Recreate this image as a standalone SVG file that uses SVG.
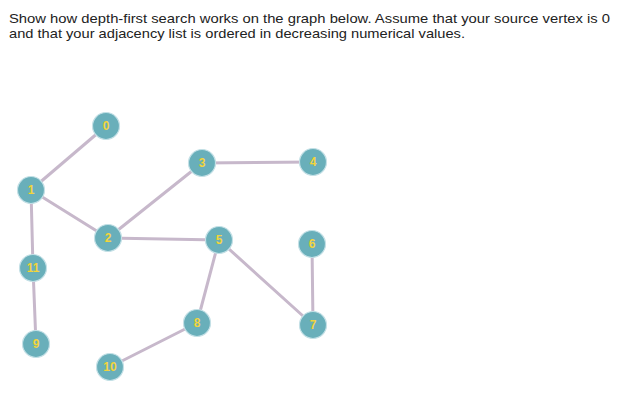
<svg xmlns="http://www.w3.org/2000/svg" width="622" height="401" viewBox="0 0 622 401">
<style>
.t{font-family:"Liberation Sans",Arial,sans-serif;font-size:13.3px;fill:#222}
.e line{stroke:#c7b8cb;stroke-width:3;stroke-linecap:round}
.n circle{fill:#69afba;stroke:#c4e0e6;stroke-width:1.2}
.n text{font-family:"Liberation Sans",Arial,sans-serif;font-size:12px;font-weight:bold;fill:#f2d43c;text-anchor:middle}
</style>
<rect width="622" height="401" fill="#fff"/>
<text class="t" x="9" y="22.5" textLength="601" lengthAdjust="spacingAndGlyphs">Show how depth-first search works on the graph below. Assume that your source vertex is 0</text>
<text class="t" x="9" y="37.5" textLength="456" lengthAdjust="spacingAndGlyphs">and that your adjacency list is ordered in decreasing numerical values.</text>
<g id="edges" class="e">
<line x1="106" y1="126" x2="31" y2="190"/>
<line x1="31" y1="190" x2="108" y2="238"/>
<line x1="31" y1="190" x2="33" y2="268"/>
<line x1="33" y1="268" x2="36" y2="344"/>
<line x1="108" y1="238" x2="202" y2="163"/>
<line x1="108" y1="238" x2="219" y2="240"/>
<line x1="202" y1="163" x2="313" y2="162"/>
<line x1="219" y1="240" x2="197" y2="323"/>
<line x1="219" y1="240" x2="313" y2="325"/>
<line x1="312" y1="244" x2="313" y2="325"/>
<line x1="197" y1="323" x2="110" y2="367"/>
</g>
<g id="n0" class="n"><circle cx="106" cy="126" r="13.5"/><text x="106" y="130">0</text></g>
<g id="n1" class="n"><circle cx="31" cy="190" r="13.5"/><text x="31" y="194">1</text></g>
<g id="n2" class="n"><circle cx="108" cy="238" r="13.5"/><text x="108" y="242">2</text></g>
<g id="n3" class="n"><circle cx="202" cy="163" r="13.5"/><text x="202" y="167">3</text></g>
<g id="n4" class="n"><circle cx="313" cy="162" r="13.5"/><text x="313" y="166">4</text></g>
<g id="n5" class="n"><circle cx="219" cy="240" r="13.5"/><text x="219" y="244">5</text></g>
<g id="n6" class="n"><circle cx="312" cy="244" r="13.5"/><text x="312" y="248">6</text></g>
<g id="n7" class="n"><circle cx="313" cy="325" r="13.5"/><text x="313" y="329">7</text></g>
<g id="n8" class="n"><circle cx="197" cy="323" r="13.5"/><text x="197" y="327">8</text></g>
<g id="n9" class="n"><circle cx="36" cy="344" r="13.5"/><text x="36" y="348">9</text></g>
<g id="n10" class="n"><circle cx="110" cy="367" r="13.5"/><text x="110" y="371">10</text></g>
<g id="n11" class="n"><circle cx="33" cy="268" r="13.5"/><text x="33" y="272">11</text></g>
</svg>
